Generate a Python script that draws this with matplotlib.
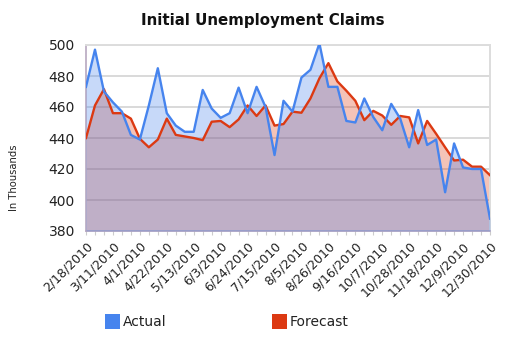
import matplotlib
matplotlib.use("Agg")
import matplotlib.pyplot as plt
from matplotlib.patches import Rectangle
import numpy as np

dates = ["2/18/2010", "2/25/2010", "3/4/2010", "3/11/2010", "3/18/2010", "3/25/2010",
         "4/1/2010", "4/8/2010", "4/15/2010", "4/22/2010", "4/29/2010", "5/6/2010",
         "5/13/2010", "5/20/2010", "5/27/2010", "6/3/2010", "6/10/2010", "6/17/2010",
         "6/24/2010", "7/1/2010", "7/8/2010", "7/15/2010", "7/22/2010", "7/29/2010",
         "8/5/2010", "8/12/2010", "8/19/2010", "8/26/2010", "9/2/2010", "9/9/2010",
         "9/16/2010", "9/23/2010", "9/30/2010", "10/7/2010", "10/14/2010", "10/21/2010",
         "10/28/2010", "11/4/2010", "11/10/2010", "11/18/2010", "11/24/2010", "12/2/2010",
         "12/9/2010", "12/16/2010", "12/23/2010", "12/30/2010"]

actual = [473, 497, 470, 463, 457, 442, 439, 461, 485, 456, 448, 444,
          444, 471, 459, 453, 456, 472.5, 456, 473, 460, 429, 464, 457,
          479, 484, 501, 473, 473, 451, 450, 465.5, 453.5, 445, 462, 452.5,
          434, 458, 435.5, 439, 405, 436.5, 421, 420, 420, 388]

forecast = [440, 461, 471.5, 456, 456, 452.5, 439.5, 434, 439, 452.5, 442, 441,
            440, 438.6, 450.5, 451, 447, 452, 461, 454.2, 461, 448, 449, 457,
            456.3, 465.5, 478.5, 488.3, 476.5, 470.5, 464, 451.5, 457.5, 454.5, 448.5, 454.2,
            453.3, 436.5, 451, 442.7, 434, 425.5, 426, 421.5, 421.5, 416]

title = "Initial Unemployment Claims"
ylabel = "In Thousands"
series_names = ["Actual", "Forecast"]

BLUE = "#4684EE"
RED = "#DC3912"

W, H = 527, 351
fig = plt.figure(figsize=(W / 100, H / 100), dpi=100)
ax = fig.add_axes([86 / W, 1 - 231 / H, (490 - 86) / W, (231 - 45) / H])

x = np.arange(len(dates))
base = 380
ax.fill_between(x, base, forecast, color=RED, alpha=0.3, linewidth=0, zorder=2)
ax.fill_between(x, base, actual, color=BLUE, alpha=0.3, linewidth=0, zorder=3)
ax.plot(x, actual, color=BLUE, linewidth=1.7, zorder=5)
ax.plot(x, forecast, color=RED, linewidth=1.7, zorder=4)

ax.set_xlim(0, len(dates) - 1)
ax.set_ylim(380, 500)
ax.set_yticks(np.arange(380, 501, 20))
ax.yaxis.grid(True, color="#d9d9d9", linewidth=1.4, zorder=1)
ax.set_axisbelow(True)
ax.tick_params(axis="y", length=0, pad=8, labelsize=10, colors="#222222")

ax.set_xticks(x)
ax.set_xticklabels([d if i % 3 == 0 else "" for i, d in enumerate(dates)],
                   rotation=45, ha="right", rotation_mode="anchor", fontsize=9)
ax.tick_params(axis="x", length=3, color="#cccccc", pad=3, labelcolor="#222222")

for s in ["top", "right"]:
    ax.spines[s].set_color("#dddddd")
    ax.spines[s].set_linewidth(1.4)
for s in ["left", "bottom"]:
    ax.spines[s].set_color("#b8a8c0")
    ax.spines[s].set_linewidth(1.2)

fig.text(263 / W, 1 - 20 / H, title, ha="center", va="center", fontsize=10.8,
         fontweight="bold", color="#111111")
fig.text(14 / W, 1 - 178 / H, ylabel, rotation=90, ha="center", va="center",
         fontsize=7.2, color="#222222")

# legend
for i, (name, col, lx) in enumerate(zip(series_names, [BLUE, RED], [105, 272])):
    fig.patches.append(Rectangle((lx / W, 1 - 329 / H), 15 / W, 15 / H,
                                 transform=fig.transFigure, facecolor=col,
                                 edgecolor="none"))
    fig.text((lx + 18) / W, 1 - 322 / H, name, ha="left", va="center",
             fontsize=10, color="#222222")

fig.savefig("out.png", dpi=100)
